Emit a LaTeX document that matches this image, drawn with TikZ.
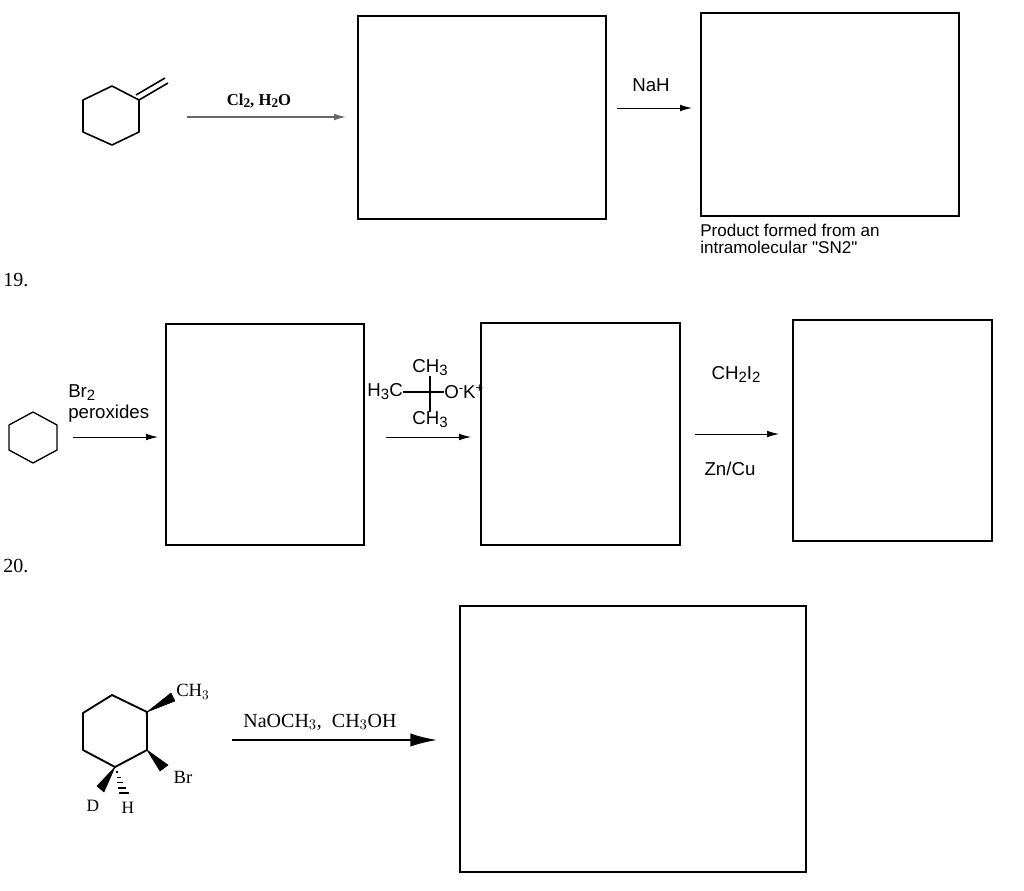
\documentclass[tikz,border=0pt]{standalone}
\usepackage{fontspec}
\setmainfont{Liberation Serif}
\newfontfamily\hv{Liberation Sans}
\usetikzlibrary{arrows.meta,calc}
\newcommand{\sbs}[1]{\raisebox{-0.3ex}{\scalebox{0.8}{#1}}}
\newcommand{\sps}[1]{\raisebox{0.6ex}{\scalebox{0.7}{#1}}}
\begin{document}
\begin{tikzpicture}[x=0.75pt,y=-0.75pt,
  box/.style={draw,line width=1.5pt},
  rxn/.style={-{Latex[length=9pt,width=5pt]},line width=0.7pt},
  bond/.style={line width=1.2pt,line join=round},
  sv/.style={font=\hv\fontsize{14}{16}\selectfont,inner sep=0pt},
  sr/.style={font=\fontsize{12}{14}\selectfont,inner sep=0pt},
  wedge/.style={fill=black}]
\useasboundingbox (0,0) rectangle (1024,890);
% Row 1
\draw[bond] (112,86)--(139,100)--(139,132)--(112,145)--(83,132)--(83,100)--cycle;
\draw[bond] (139,100)--(168,83);
\draw[bond] (136,95)--(165,78);
\coordinate (a1s) at (187,117); \coordinate (a1e) at (346,117);
\draw[rxn,draw=black!60,line width=1pt] (a1s)--(a1e);
\node[sr,font=\bfseries\fontsize{12.5}{14}\selectfont] (l1) at (259,101) {Cl\sbs{2}, H\sbs{2}O};
\node[box,minimum width=248*0.75pt,minimum height=203*0.75pt,anchor=north west] (A) at (357,15) {};
\node[box,minimum width=258*0.75pt,minimum height=203*0.75pt,anchor=north west] (B) at (700,12) {};
\coordinate (a2s) at (617,108); \coordinate (a2e) at (692,108);
\draw[rxn] (a2s)--(a2e);
\node[sv] (nah) at (651,85) {NaH};
\node[sv,anchor=north west,align=left,font=\hv\fontsize{12.8}{13}\selectfont] (prod) at (700,224) {Product formed from an\\intramolecular "SN2"};
\node[sr,font=\fontsize{15}{16}\selectfont,anchor=west] (n19) at (3,280) {19.};
% Row 2
\draw[bond,line width=1pt] (33,412)--(57,425)--(57,450)--(33,463)--(9,450)--(9,425)--cycle;
\node[sv,anchor=west] (br2) at (68,393) {Br\sbs{2}};
\node[sv,anchor=west] (perox) at (68,414) {peroxides};
\coordinate (b1s) at (73,437); \coordinate (b1e) at (158,437);
\draw[rxn] (b1s)--(b1e);
\node[box,minimum width=198*0.75pt,minimum height=221*0.75pt,anchor=north west] (C) at (165,323) {};
\node[box,minimum width=199*0.75pt,minimum height=222*0.75pt,anchor=north west] (D) at (480,322) {};
\node[box,minimum width=199*0.75pt,minimum height=221*0.75pt,anchor=north west] (E) at (792,319) {};
\node[sv] (ch3t) at (430,368) {CH\sbs{3}};
\node[sv] (ch3b) at (430,420) {CH\sbs{3}};
\node[sv,anchor=east] (h3c) at (403,392) {H\sbs{3}C};
\node[sv,anchor=west] (ok) at (444,392) {O\sps{-}K\sps{+}};
\draw[line width=0.8pt] (h3c.east)--(ok.west);
\draw[line width=0.8pt] (ch3t.south)--(ch3b.north);
\coordinate (b2s) at (386,437); \coordinate (b2e) at (471,437);
\draw[rxn] (b2s)--(b2e);
\node[sv] (ch2i2) at (736,374) {CH\sbs{2}I\sbs{2}};
\coordinate (b3s) at (695,434); \coordinate (b3e) at (779,434);
\draw[rxn] (b3s)--(b3e);
\node[sv] (zncu) at (730,469) {Zn/Cu};
\node[sr,font=\fontsize{15}{16}\selectfont,anchor=west] (n20) at (3,566) {20.};
% Row 3
\draw[bond,line width=1.4pt] (112,695)--(147,712)--(147,750)--(115,767)--(83,750)--(83,713)--cycle;
\draw[wedge] (147,712)--(171,693)--(175,701)--cycle;
\node[sr,anchor=west,font=\fontsize{14}{15}\selectfont] (ch3) at (176,692) {CH$_3$};
\draw[wedge] (147,750)--(160,771)--(168,765)--cycle;
\node[sr,font=\fontsize{14}{15}\selectfont] (br) at (183,777) {Br};
\draw[wedge] (115,767)--(97,786)--(104,792)--cycle;
\foreach \t in {0.2,0.4,0.6,0.8,1.0}
  \draw[line width=1.2pt] ($(115,767)!\t!(124,793)+(-\t*5,0)$)--($(115,767)!\t!(124,793)+(\t*5,0)$);
\node[sr,font=\fontsize{13}{14}\selectfont] (d) at (93,806) {D};
\node[sr,font=\fontsize{13}{14}\selectfont] (h) at (128,808) {H};
\coordinate (c1s) at (232,740); \coordinate (c1e) at (437,740);
\draw[-{Latex[length=20pt,width=10pt]},line width=1.3pt] (c1s)--(c1e);
\node[sr,font=\fontsize{15}{16}\selectfont] (naome) at (320,722) {NaOCH$_3$,~ CH$_3$OH};
\node[box,minimum width=346*0.75pt,minimum height=266*0.75pt,anchor=north west] (F) at (459,605) {};
\end{tikzpicture}
\end{document}
